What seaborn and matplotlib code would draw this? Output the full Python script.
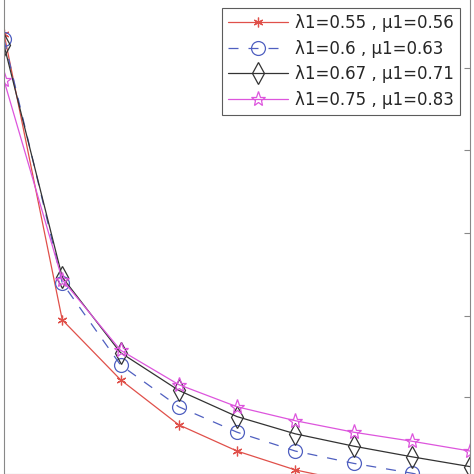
import numpy as np
import pandas as pd
import seaborn as sns
import matplotlib
matplotlib.use("Agg")
import matplotlib.pyplot as plt
from matplotlib.lines import Line2D

x = [1, 2, 3, 4, 5, 6, 7, 8, 9]
# values (arbitrary units, axis labels are cropped)
s1 = [5.37, 1.88, 1.15, 0.60, 0.28, 0.05, -0.10, -0.20, -0.26]
s2 = [5.30, 2.33, 1.33, 0.82, 0.51, 0.28, 0.13, 0.01, -0.13]
s3 = [5.23, 2.40, 1.48, 1.02, 0.70, 0.49, 0.34, 0.21, 0.09]
s4 = [4.80, 2.37, 1.51, 1.09, 0.82, 0.65, 0.51, 0.40, 0.28]
labels = ["λ1=0.55 , μ1=0.56", "λ1=0.6 , μ1=0.63",
          "λ1=0.67 , μ1=0.71", "λ1=0.75 , μ1=0.83"]

sns.set_style("white")
fig = plt.figure(figsize=(4.74, 4.74), dpi=100)
ax = fig.add_axes([4 / 474, 0, 466 / 474, 1.05])

styles = [
    dict(color="#e0504a", marker=(6, 2, 0), ls="-", ms=7),
    dict(color="#4f5fc0", marker="o", ls=(0, (8, 8)), ms=10),
    dict(color="#333333", marker="d", ls="-", ms=11),
    dict(color="#dd55dd", marker="*", ls="-", ms=11),
]
handles = []
for ys, lab, st in zip([s1, s2, s3, s4], labels, styles):
    sns.lineplot(x=x, y=ys, ax=ax, color=st["color"], lw=0.9,
                 linestyle=st["ls"], legend=False)
    ax.plot(x, ys, ls="none", marker=st["marker"], ms=st["ms"],
            mfc="none", mec=st["color"], mew=0.9)
    handles.append(Line2D([], [], color=st["color"], lw=0.9, ls=st["ls"],
                          marker=st["marker"], ms=st["ms"], mfc="none",
                          mew=0.9))

ax.set_xlim(1, 9)
ax.set_ylim(0, 474 / 82 * 1.05)
ax.set_xticks(x)
ax.set_yticks([0.94, 1.93, 2.94, 3.95, 4.95])
ax.set_xticklabels([])
ax.set_yticklabels([])
ax.tick_params(direction="in", length=4, color="#888888", right=True, top=True)
for sp in ax.spines.values():
    sp.set_color("#888888")
    sp.set_linewidth(0.8)

leg = ax.legend(handles, labels, loc="upper right",
                bbox_to_anchor=(468 / 474, 1.0), bbox_transform=fig.transFigure,
                fontsize=12, frameon=True, fancybox=False, edgecolor="#333333",
                handlelength=3.6, borderpad=0.35, labelspacing=0.45,
                handletextpad=0.4)
leg.get_frame().set_linewidth(0.8)

fig.savefig("out.png", dpi=100)
